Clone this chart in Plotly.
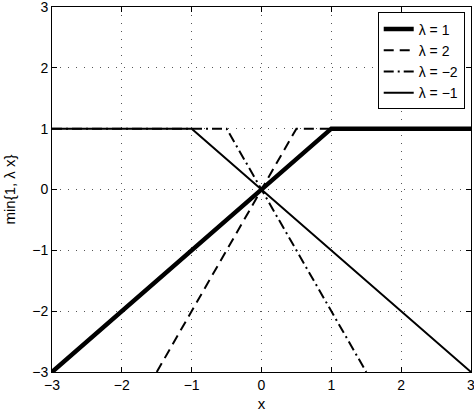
import plotly.graph_objects as go

# Breakpoints and values of min{1, λx} for each λ
x_l1 = [-3, 1, 3]
y_l1 = [-3, 1, 1]
x_l2 = [-1.5, 0.5, 3]
y_l2 = [-3, 1, 1]
x_lm2 = [-3, -0.5, 1.5]
y_lm2 = [1, 1, -3]
x_lm1 = [-3, -1, 3]
y_lm1 = [1, 1, -3]
names = ["λ = 1", "λ = 2", "λ = −2", "λ = −1"]
tick_vals = [-3, -2, -1, 0, 1, 2, 3]

fig = go.Figure()
fig.add_trace(go.Scatter(x=x_l1, y=y_l1, mode="lines", name=names[0],
                         line=dict(color="black", width=4.5)))
fig.add_trace(go.Scatter(x=x_l2, y=y_l2, mode="lines", name=names[1],
                         line=dict(color="black", width=2, dash="10px,6px")))
fig.add_trace(go.Scatter(x=x_lm2, y=y_lm2, mode="lines", name=names[2],
                         line=dict(color="black", width=2, dash="10px,4px,2px,4px")))
fig.add_trace(go.Scatter(x=x_lm1, y=y_lm1, mode="lines", name=names[3],
                         line=dict(color="black", width=2)))

axis_common = dict(
    range=[-3, 3], tickvals=tick_vals, ticks="inside", ticklen=5,
    tickcolor="black", showline=True, linecolor="black", linewidth=1,
    mirror="ticks", showgrid=True, gridcolor="#555", griddash="1px,7px",
    gridwidth=1, zeroline=False, tickfont=dict(size=14, color="black"),
    automargin=False, ticklabeloverflow="allow",
)
fig.update_xaxes(**axis_common, title=dict(text="x", standoff=6, font=dict(size=15)))
fig.update_yaxes(**axis_common, title=dict(text="min{1, λ x}", standoff=12, font=dict(size=15)))

fig.update_layout(
    width=474, height=413,
    margin=dict(l=52, r=3, t=7, b=41),
    paper_bgcolor="white", plot_bgcolor="white",
    font=dict(family="Liberation Sans, Arial, sans-serif", size=14, color="black"),
    legend=dict(x=0.985, y=0.985, xanchor="right", yanchor="top",
                bordercolor="black", borderwidth=1, bgcolor="white",
                font=dict(size=14), tracegroupgap=0, itemwidth=30),
)
fig.write_html("out.html", config={"displayModeBar": False},
               post_script="document.body.style.margin='0';")
